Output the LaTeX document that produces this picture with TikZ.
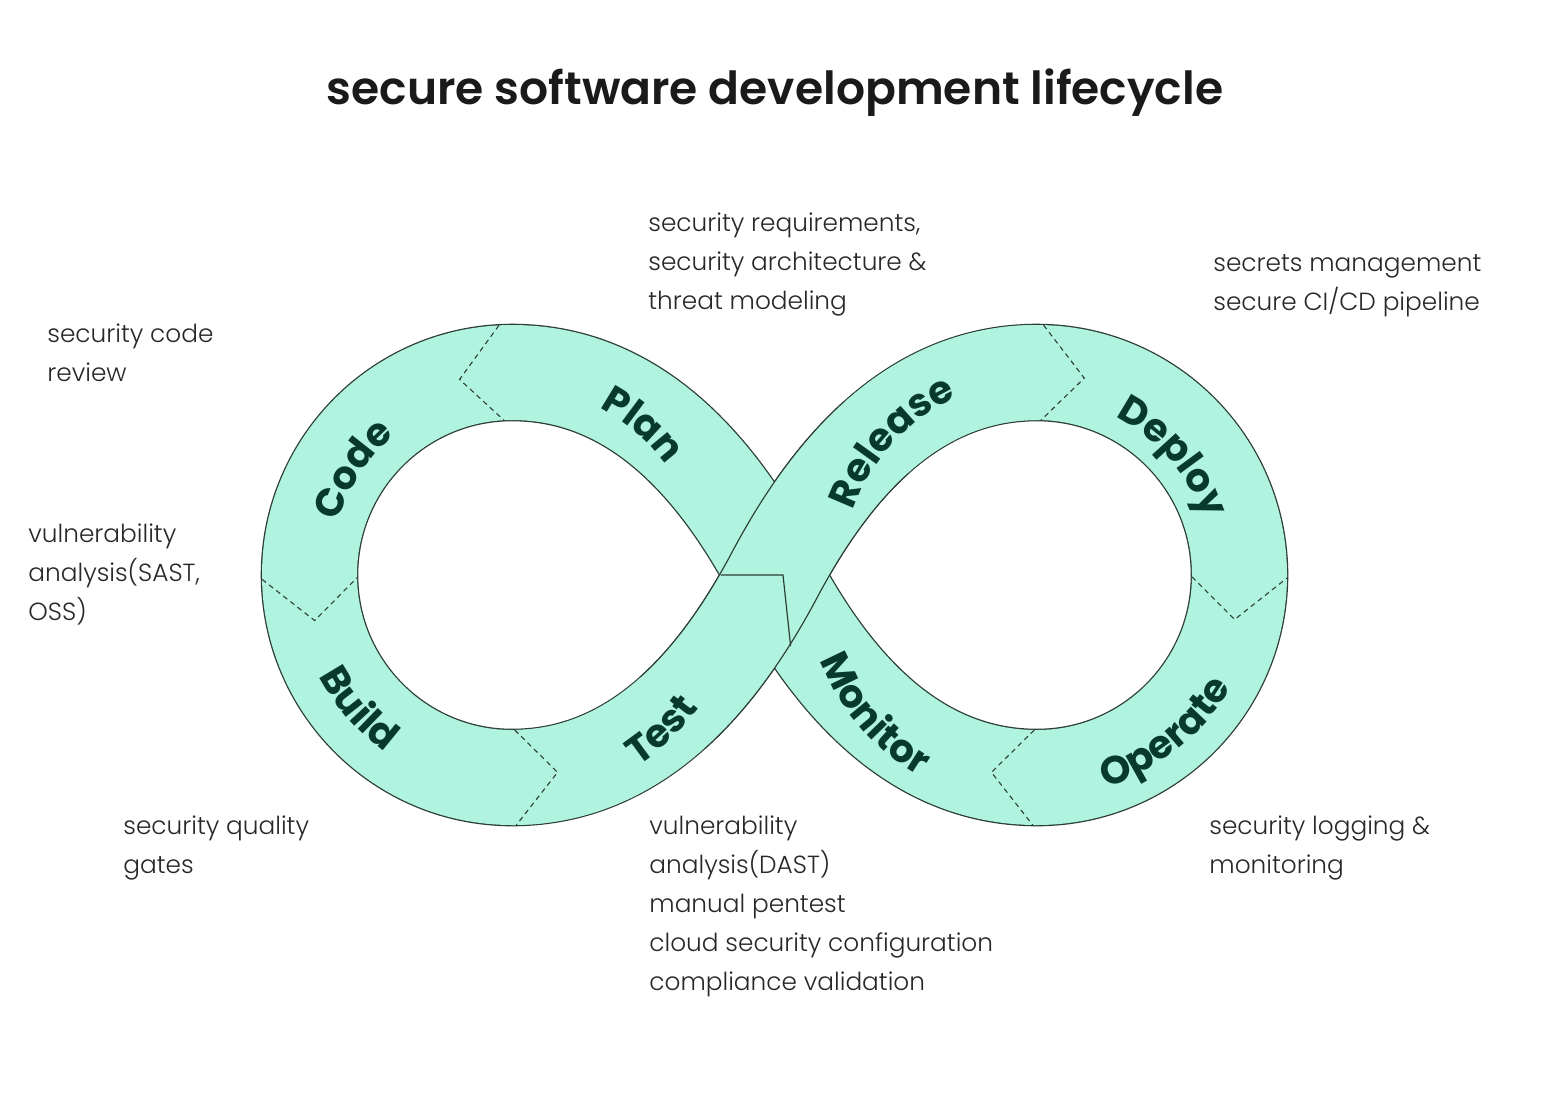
\documentclass[tikz,border=0pt]{standalone}
\usepackage{fontspec}
\setmainfont{Poppins Light}
\newfontfamily\titlefont{Poppins SemiBold}
\newfontfamily\labelfont{Poppins Bold}
\usetikzlibrary{decorations.text}
\definecolor{mint}{RGB}{176,243,222}
\definecolor{edgecol}{RGB}{45,62,57}
\definecolor{labcol}{RGB}{8,58,44}
\definecolor{ink}{RGB}{40,40,40}
\definecolor{titleink}{RGB}{26,26,26}
\newcommand\eightpath{(512,372.5) arc[start angle=270,end angle=90,radius=202.5]
  .. controls (642,777.5) and (722.9,672.1) .. (774.5,575)
  .. controls (826.1,477.9) and (907,372.5) .. (1037,372.5)
  arc[start angle=-90,end angle=90,radius=202.5]
  .. controls (907,777.5) and (826.1,672.1) .. (774.5,575)
  .. controls (722.9,477.9) and (642,372.5) .. cycle}
% full band A crossing piece (fill) and its short middle part (edges)
\newcommand\crosspath{(512,777.5) .. controls (642,777.5) and (722.9,672.1) .. (774.5,575)
  .. controls (826.1,477.9) and (907,372.5) .. (1037,372.5)}
\newcommand\crossmid{(672.65,712.66) .. controls (715.575,674.175) and (748.7,623.55) .. (774.5,575)
  .. controls (800.3,526.45) and (833.425,475.825) .. (876.35,437.34)}
\newcommand\lab[1]{|\labelfont\fontsize{19.5}{19.5}\selectfont\color{labcol}|#1}
\tikzset{
  bandedge/.style={draw=edgecol,line width=48.8pt},
  bandfill/.style={draw=mint,line width=47.5pt},
  divider/.style={draw=edgecol,line width=0.55pt,dash pattern=on 2.5pt off 2pt},
  crossdiv/.style={draw=edgecol,line width=0.6pt},
  body/.style={anchor=north west,inner sep=0pt,align=left,text=ink,font=\fontsize{12.4}{19.5}\selectfont},
  bandtext/.style={decorate,decoration={text along path,text align=center,text={#1}}}
}
\begin{document}
\begin{tikzpicture}[x=0.5pt,y=-0.5pt]
\useasboundingbox (0,0) rectangle (1550,1094);
\fill[white] (0,0) rectangle (1550,1094);
% title
\node[font=\titlefont\fontsize{22.8}{27}\selectfont,text=titleink,inner sep=0pt] (title) at (775,93) {secure software development lifecycle};
% band
\path[bandedge] \eightpath;
\path[bandfill] \eightpath;
\path[bandedge] \crossmid;
\path[bandfill] \crosspath;
% dividers
\begin{scope}[shift={(512,575)}]
  \path[divider] (-93:250) -- (-105:202.5) -- (-93:155);
  \path[divider] (179:250) -- (167:202.5) -- (179:155);
  \path[divider] (89:155) -- (77:202.5) -- (89:250);
\end{scope}
\begin{scope}[shift={(1037,575)}]
  \path[divider] (-88.5:250) -- (-76.5:202.5) -- (-88.5:155);
  \path[divider] (0.7:155) -- (12.7:202.5) -- (0.7:250);
  \path[divider] (91:155) -- (103:202.5) -- (91:250);
\end{scope}
\path[crossdiv] (720.7,575) -- (783,575) -- (790.6,646);
% band labels
\path[bandtext={\lab{Plan}}] ([shift={(-94:189)}]512,575) arc[start angle=-94,end angle=-4,radius=189];
\path[bandtext={\lab{Code}}] ([shift={(168.5:182)}]512,575) arc[start angle=168.5,end angle=258.5,radius=182];
\path[bandtext={\lab{Build}}] ([shift={(184:218)}]512,575) arc[start angle=184,end angle=94,radius=218];
\path[bandtext={\lab{Test}}] ([shift={(91:229)}]512,575) arc[start angle=91,end angle=1,radius=229];
\path[bandtext={\lab{Release}}] ([shift={(177.5:195)}]1037,575) arc[start angle=177.5,end angle=267.5,radius=195];
\path[bandtext={\lab{Deploy}}] ([shift={(-86:176)}]1037,575) arc[start angle=-86,end angle=4,radius=176];
\path[bandtext={\lab{Operate}}] ([shift={(96:224)}]1037,575) arc[start angle=96,end angle=6,radius=224];
\path[bandtext={\lab{Monitor}}] ([shift={(184.5:233)}]1037,575) arc[start angle=184.5,end angle=94.5,radius=233];
% annotations
\node[body] (t1) at (648,204) {\strut security requirements,\\security architecture \&\\threat modeling};
\node[body] (t2) at (1213,244) {\strut secrets management\\secure CI/CD pipeline};
\node[body] (t3) at (47,315) {\strut security code\\review};
\node[body] (t4) at (28,515) {\strut vulnerability\\analysis(SAST,\\OSS)};
\node[body] (t5) at (123,807) {\strut security quality\\gates};
\node[body] (t6) at (649,807) {\strut vulnerability\\analysis(DAST)\\manual pentest\\cloud security configuration\\compliance validation};
\node[body] (t7) at (1209,807) {\strut security logging \&\\monitoring};
\end{tikzpicture}
\end{document}
